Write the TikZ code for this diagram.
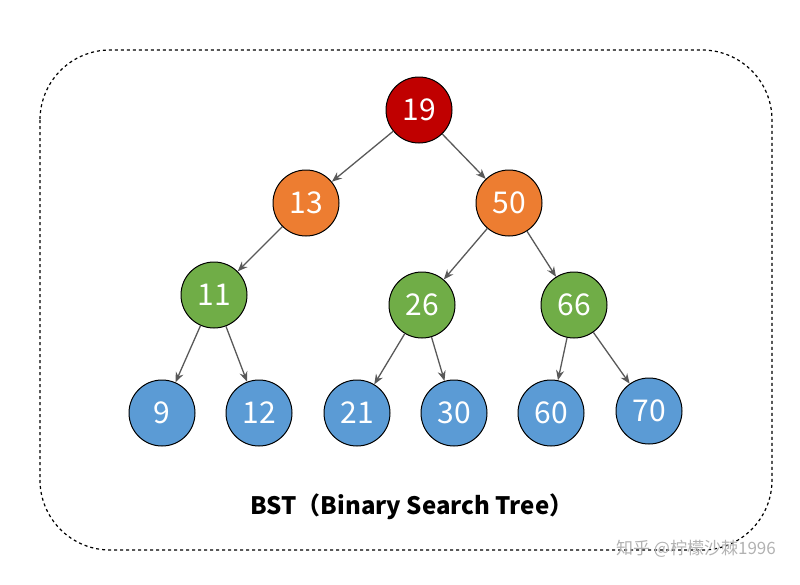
\documentclass[tikz,border=0pt]{standalone}
\usepackage{fontspec}
\setmainfont{Noto Sans CJK SC}
\newfontfamily\cjk{Noto Sans CJK SC}
\usetikzlibrary{arrows.meta}
\definecolor{cred}{HTML}{C00000}
\definecolor{corange}{HTML}{ED7D31}
\definecolor{cgreen}{HTML}{70AD47}
\definecolor{cblue}{HTML}{5B9BD5}
\definecolor{cedge}{HTML}{595959}
\begin{document}
\begin{tikzpicture}[x=1pt,y=-1pt,
  tn/.style={circle,draw=black,line width=1pt,minimum size=66pt,inner sep=0pt,text=white,font=\fontsize{30}{30}\selectfont},
  ed/.style={draw=cedge,line width=1.3pt,-{Stealth[length=10pt,width=8pt]}}]
\useasboundingbox (0,0) rectangle (800,584);
\draw[dashed,line width=1.2pt,rounded corners=70pt] (40,50) rectangle (772,550);
\node[tn,fill=cred] (n19) at (419,110) {19};
\node[tn,fill=corange] (n13) at (306,203) {13};
\node[tn,fill=corange] (n50) at (509,203) {50};
\node[tn,fill=cgreen] (n11) at (214,295) {11};
\node[tn,fill=cgreen] (n26) at (422,305) {26};
\node[tn,fill=cgreen] (n66) at (574,305) {66};
\node[tn,fill=cblue] (n9) at (162,413) {9};
\node[tn,fill=cblue] (n12) at (259,413) {12};
\node[tn,fill=cblue] (n21) at (357,413) {21};
\node[tn,fill=cblue] (n30) at (454,413) {30};
\node[tn,fill=cblue] (n60) at (551,413) {60};
\node[tn,fill=cblue] (n70) at (649,411) {70};
\foreach \a/\b in {n19/n13,n19/n50,n13/n11,n50/n26,n50/n66,n11/n9,n11/n12,n26/n21,n26/n30,n66/n60,n66/n70}
  \draw[ed] (\a) -- (\b);
\node[font=\bfseries\fontsize{24}{24}\selectfont] (title) at (412,507) {BST{\cjk （}Binary Search Tree{\cjk ）}};
\node[text=gray!60,font=\cjk\fontsize{17}{17}\selectfont] (wm) at (696,549) {知乎 @柠檬沙棘1996};
\end{tikzpicture}
\end{document}
